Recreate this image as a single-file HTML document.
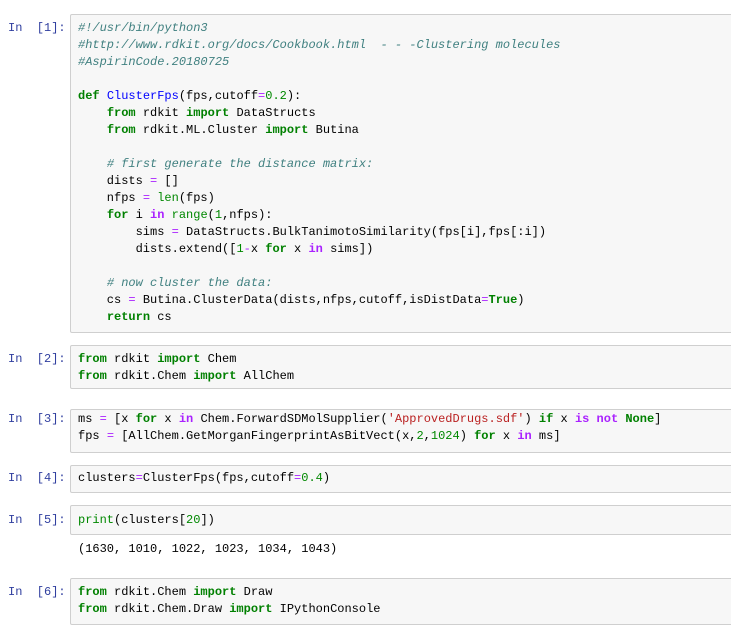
<!DOCTYPE html>
<html><head><meta charset="utf-8"><style>
body{margin:0;width:731px;height:632px;background:#fff;overflow:hidden;position:relative;font-family:"Liberation Mono","Noto Sans CJK SC",monospace;font-size:12px;}
.p{position:absolute;left:8px;color:#303f9f;white-space:pre;line-height:17px}
.b{position:absolute;left:70px;width:680px;background:#f7f7f7;border:1px solid #cfcfcf;border-radius:2px;box-sizing:border-box}
pre{margin:0;padding:5px 7px;font:inherit;line-height:17px;color:#000}
.k{color:#008000;font-weight:bold}.f{color:#0000ff}.c{color:#408080;font-style:italic}.o{color:#aa22ff}.n{color:#080}.s{color:#ba2121}.ow{color:#aa22ff;font-weight:bold}
.out{position:absolute;left:78px;top:541px;line-height:17px;white-space:pre}
</style></head><body>
<div class="p" style="top:20px">In  [1]:</div>
<div class="b" style="top:14px;height:319px"><pre><span class="c">#!/usr/bin/python3
#http://www.rdkit.org/docs/Cookbook.html  - - -Clustering molecules
#AspirinCode.20180725</span>

<span class="k">def</span> <span class="f">ClusterFps</span>(fps,cutoff<span class="o">=</span><span class="n">0.2</span>):
    <span class="k">from</span> rdkit <span class="k">import</span> DataStructs
    <span class="k">from</span> rdkit.ML.Cluster <span class="k">import</span> Butina

    <span class="c"># first generate the distance matrix:</span>
    dists <span class="o">=</span> []
    nfps <span class="o">=</span> <span class="n">len</span>(fps)
    <span class="k">for</span> i <span class="ow">in</span> <span class="n">range</span>(<span class="n">1</span>,nfps):
        sims <span class="o">=</span> DataStructs.BulkTanimotoSimilarity(fps[i],fps[:i])
        dists.extend([<span class="n">1</span><span class="o">-</span>x <span class="k">for</span> x <span class="ow">in</span> sims])

    <span class="c"># now cluster the data:</span>
    cs <span class="o">=</span> Butina.ClusterData(dists,nfps,cutoff,isDistData<span class="o">=</span><span class="k">True</span>)
    <span class="k">return</span> cs</pre></div>

<div class="p" style="top:351px">In  [2]:</div>
<div class="b" style="top:345px;height:44px"><pre><span class="k">from</span> rdkit <span class="k">import</span> Chem
<span class="k">from</span> rdkit.Chem <span class="k">import</span> AllChem</pre></div>

<div class="p" style="top:411px">In  [3]:</div>
<div class="b" style="top:409px;height:44px"><pre style="padding-top:1px">ms <span class="o">=</span> [x <span class="k">for</span> x <span class="ow">in</span> Chem.ForwardSDMolSupplier(<span class="s">'ApprovedDrugs.sdf'</span>) <span class="k">if</span> x <span class="ow">is</span> <span class="ow">not</span> <span class="k">None</span>]
fps <span class="o">=</span> [AllChem.GetMorganFingerprintAsBitVect(x,<span class="n">2</span>,<span class="n">1024</span>) <span class="k">for</span> x <span class="ow">in</span> ms]</pre></div>

<div class="p" style="top:470px">In  [4]:</div>
<div class="b" style="top:465px;height:28px"><pre style="padding-top:4px">clusters<span class="o">=</span>ClusterFps(fps,cutoff<span class="o">=</span><span class="n">0.4</span>)</pre></div>

<div class="p" style="top:512px">In  [5]:</div>
<div class="b" style="top:505px;height:30px"><pre style="padding-top:6px"><span class="n">print</span>(clusters[<span class="n">20</span>])</pre></div>
<div class="out">(1630, 1010, 1022, 1023, 1034, 1043)</div>

<div class="p" style="top:584px">In  [6]:</div>
<div class="b" style="top:578px;height:47px"><pre><span class="k">from</span> rdkit.Chem <span class="k">import</span> Draw
<span class="k">from</span> rdkit.Chem.Draw <span class="k">import</span> IPythonConsole</pre></div>
</body></html>
